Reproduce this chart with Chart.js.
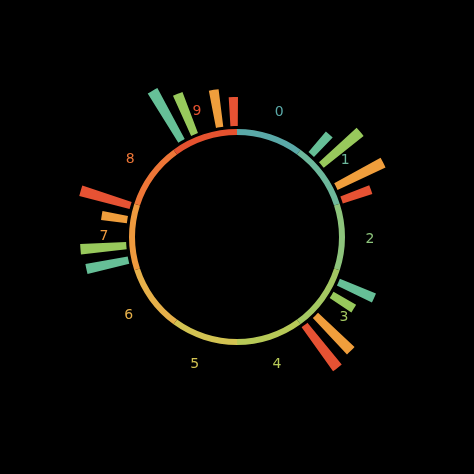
<!DOCTYPE html>
<html>
<head>
<meta charset="utf-8">
<script src="https://cdn.jsdelivr.net/npm/chart.js@4/dist/chart.umd.min.js"></script>
<style>
  html, body { margin: 0; padding: 0; background: #000; }
  #wrap { width: 474px; height: 474px; position: relative; background: #000; }
</style>
</head>
<body>
<div id="wrap"><canvas id="c"></canvas></div>
<script>
// ---- data ----
const categories = ['0', '1', '2', '3', '4', '5', '6', '7', '8', '9'];
const seriesTeal   = [0, 27, 0, 39, 0, 0, 0, 43, 0, 58];
const seriesGreen  = [0, 51, 0, 26, 0, 0, 0, 46, 0, 44];
const seriesOrange = [0, 53, 0, 50, 0, 0, 0, 26, 0, 38];
const seriesRed    = [0, 31, 0, 54, 0, 0, 0, 52, 0, 29];
const seriesColors = ['#66bf97', '#98c95c', '#f09e3c', '#e65233'];
const categoryColors = ['#5aa9a8', '#6db89c', '#8dc47c', '#a4c862', '#b7c957',
                        '#d3c352', '#e6b04a', '#ef9a3e', '#ee7637', '#e5522f'];

// ---- radial bar controller: polar area arcs that start from a baseline value ----
class RadialBarController extends Chart.PolarAreaController {
  updateElements(arcs, start, count, mode) {
    super.updateElements(arcs, start, count, mode);
    const ds = this.getDataset();
    const scale = this._cachedMeta.rScale;
    const inner = scale.getDistanceFromCenterForValue(ds.innerValue ?? 0);
    const shift = (ds.angleOffset || 0) * Math.PI / 180;
    for (let i = start; i < start + count; i++) {
      const arc = arcs[i];
      arc.innerRadius = inner;
      arc.startAngle += shift;
      arc.endAngle += shift;
    }
  }
}
RadialBarController.id = 'radialBar';
RadialBarController.defaults = Chart.PolarAreaController.defaults;
RadialBarController.overrides = Chart.PolarAreaController.overrides;
Chart.register(RadialBarController);

const sector = 360 / categories.length;
const barAngle = 3.8;
const offsets = [4.1, 11.6, 25.1, 32.6];

function barDataset(values, idx) {
  const data = [];
  values.forEach(v => { data.push(v); data.push(0); });
  return {
    data,
    angleOffset: offsets[idx],
    innerValue: 0,
    angle: (ctx) => ctx.dataIndex % 2 === 0 ? barAngle : sector - barAngle,
    backgroundColor: (ctx) => ctx.dataIndex % 2 === 0 ? seriesColors[idx] : 'rgba(0,0,0,0)',
    borderWidth: 0
  };
}

const ringDataset = {
  data: categories.map(() => -3),
  innerValue: -9,
  angleOffset: 0,
  angle: sector,
  backgroundColor: categoryColors,
  borderWidth: 0
};

const labelPlugin = {
  id: 'catLabels',
  beforeDraw(chart) {
    const ctx = chart.ctx;
    ctx.save();
    ctx.fillStyle = '#000';
    ctx.fillRect(0, 0, chart.width, chart.height);
    ctx.restore();
  },
  afterDatasetsDraw(chart) {
    const scale = chart.scales.r;
    const ctx = chart.ctx;
    const r = scale.getDistanceFromCenterForValue(22);
    ctx.save();
    ctx.font = '14px "DejaVu Sans"';
    ctx.textAlign = 'center';
    ctx.textBaseline = 'middle';
    categories.forEach((c, i) => {
      const a = (i * sector + 18.5) * Math.PI / 180;
      const x = scale.xCenter + r * Math.sin(a);
      const y = scale.yCenter - r * Math.cos(a) + 1;
      ctx.fillStyle = categoryColors[i];
      ctx.fillText(c, x, y);
    });
    ctx.restore();
  }
};

new Chart(document.getElementById('c'), {
  type: 'radialBar',
  data: {
    labels: categories.flatMap(c => [c, c + ' ']),
    datasets: [ringDataset,
      barDataset(seriesTeal, 0), barDataset(seriesGreen, 1),
      barDataset(seriesOrange, 2), barDataset(seriesRed, 3)]
  },
  options: {
    responsive: true,
    maintainAspectRatio: false,
    animation: false,
    layout: { padding: 0 },
    scales: {
      r: {
        display: false,
        min: -111,
        max: 126,
        startAngle: 0,
        ticks: { display: false },
        grid: { display: false },
        angleLines: { display: false },
        pointLabels: { display: false }
      }
    },
    plugins: {
      legend: { display: false },
      tooltip: { enabled: false }
    }
  },
  plugins: [labelPlugin]
});
</script>
</body>
</html>
